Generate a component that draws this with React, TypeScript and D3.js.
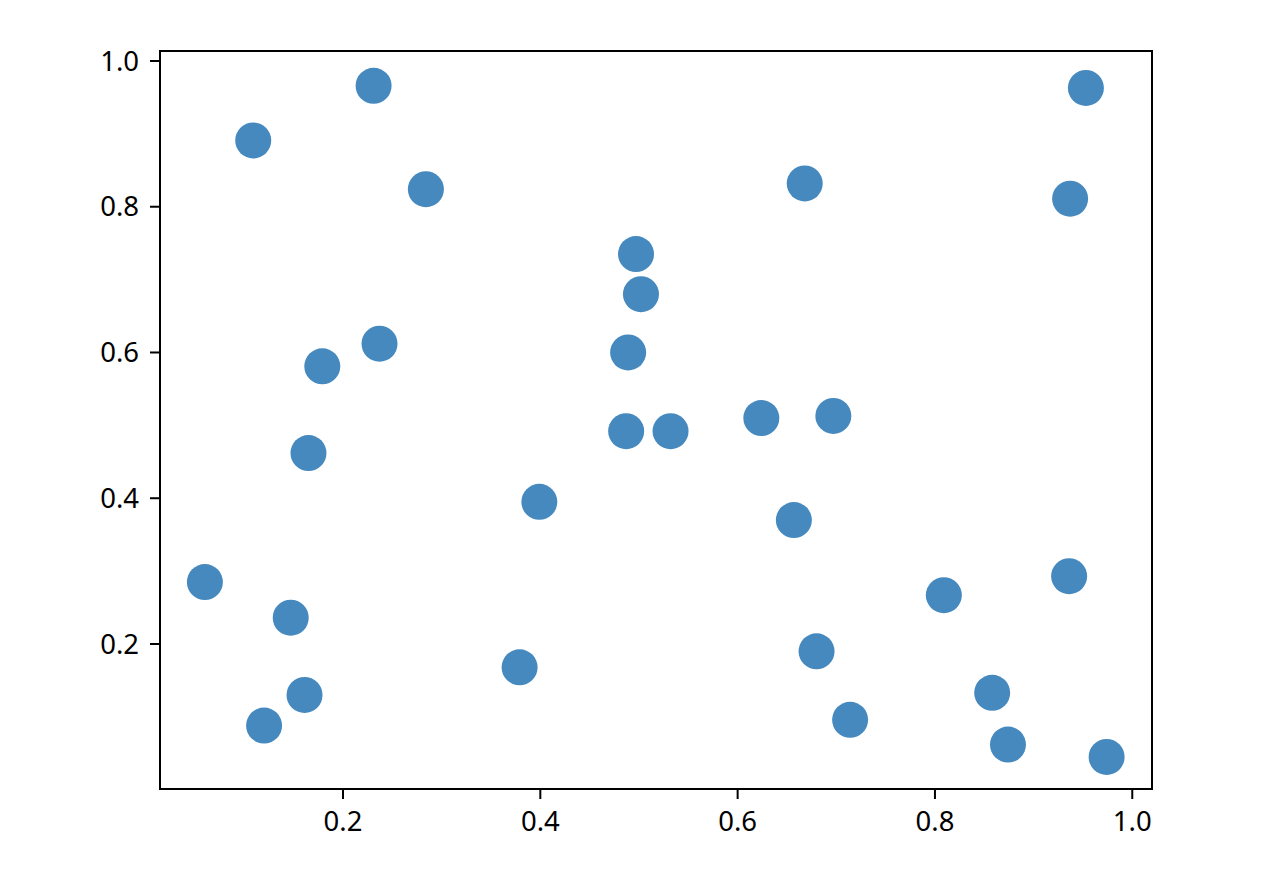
import * as d3 from "d3";

// scatter points
const xs = [0.060, 0.109, 0.231, 0.284, 0.179, 0.237, 0.165, 0.147, 0.161, 0.120,
    0.379, 0.399, 0.497, 0.502, 0.489, 0.487, 0.532, 0.624, 0.697, 0.668,
    0.657, 0.680, 0.714, 0.809, 0.858, 0.874, 0.936, 0.937, 0.953, 0.974];
const ys = [0.285, 0.891, 0.966, 0.824, 0.581, 0.612, 0.462, 0.236, 0.130, 0.088,
    0.168, 0.395, 0.735, 0.680, 0.600, 0.492, 0.492, 0.510, 0.513, 0.832,
    0.370, 0.190, 0.096, 0.267, 0.133, 0.062, 0.293, 0.811, 0.963, 0.045];
const xTicks = [0.2, 0.4, 0.6, 0.8, 1.0];
const yTicks = [0.2, 0.4, 0.6, 0.8, 1.0];

export default function App() {
    const size = { x: 1280, y: 880 };
    const box = { left: 160, right: 1152, top: 51, bottom: 789 };
    const font = "'Noto Sans', 'DejaVu Sans', sans-serif";
    const fmt = d3.format(".1f");

    const x = d3.scaleLinear([0.0145, 1.02], [box.left, box.right]);
    const y = d3.scaleLinear([0.001, 1.0137], [box.bottom, box.top]);

    return (
        <svg width={size.x} height={size.y} style={{ position: "absolute", left: 0, top: 0, background: "#fff" }}>
            <g id="points">
                {xs.map((d, i) => (
                    <circle key={i} cx={x(d)} cy={y(ys[i])} r={18} fill="#4589bf" />
                ))}
            </g>
            <rect x={box.left} y={box.top} width={box.right - box.left} height={box.bottom - box.top}
                fill="none" stroke="#000" strokeWidth={2} />
            <g id="x-axis" fontFamily={font} fontSize={27.5}>
                {xTicks.map(t => (
                    <g key={t} transform={`translate(${x(t)}, ${box.bottom})`}>
                        <line y2={10} stroke="#000" strokeWidth={2} />
                        <text y={42} textAnchor="middle" fill="#000">{fmt(t)}</text>
                    </g>
                ))}
            </g>
            <g id="y-axis" fontFamily={font} fontSize={27.5}>
                {yTicks.map(t => (
                    <g key={t} transform={`translate(${box.left}, ${y(t)})`}>
                        <line x2={-10} stroke="#000" strokeWidth={2} />
                        <text x={-21} dy="0.35em" textAnchor="end" fill="#000">{fmt(t)}</text>
                    </g>
                ))}
            </g>
        </svg>
    );
}
